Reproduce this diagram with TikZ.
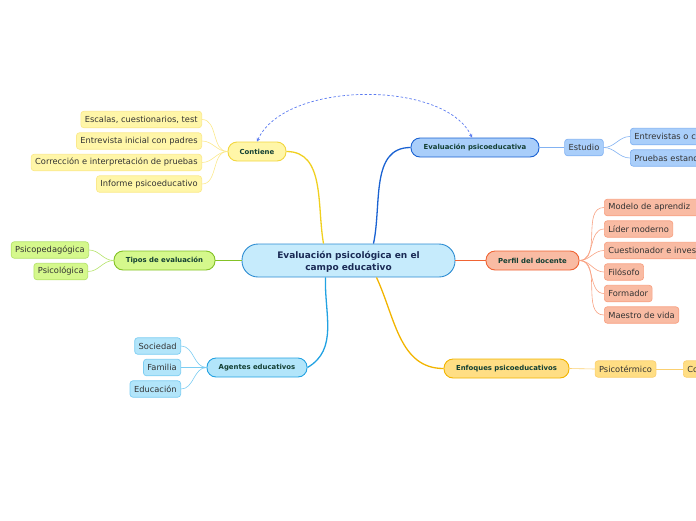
\documentclass[tikz,border=0pt]{standalone}
\usepackage{fontspec}
\setmainfont{DejaVu Sans}
\usetikzlibrary{arrows.meta,calc}
\definecolor{mainfill}{HTML}{C6EBFC}
\definecolor{mainline}{HTML}{2C8CD2}
\definecolor{maintext}{HTML}{1A2A55}
\definecolor{brtext}{HTML}{123F33}
\definecolor{leaftext}{HTML}{333333}
\definecolor{yfill}{HTML}{FFF6A8}
\definecolor{yline}{HTML}{F2D640}
\definecolor{yleafline}{HTML}{FBE98C}
\definecolor{ycon}{HTML}{F0D020}
\definecolor{bfill}{HTML}{A9CEFA}
\definecolor{bline}{HTML}{1A62D2}
\definecolor{bleafline}{HTML}{82B2F2}
\definecolor{ofill}{HTML}{F9BBA3}
\definecolor{oline}{HTML}{F06434}
\definecolor{oleafline}{HTML}{F8A283}
\definecolor{gfill}{HTML}{D5F88C}
\definecolor{gline}{HTML}{84C226}
\definecolor{gleafline}{HTML}{B5E36A}
\definecolor{cfill}{HTML}{B2E5FA}
\definecolor{cline}{HTML}{22A2E2}
\definecolor{cleafline}{HTML}{7CCDF2}
\definecolor{efill}{HTML}{FFDE84}
\definecolor{eline}{HTML}{F2B400}
\definecolor{eleafline}{HTML}{FBD070}
\definecolor{dashcol}{HTML}{5A7AF0}
\begin{document}
\begin{tikzpicture}[x=1pt,y=1pt,
  leaf/.style={draw, rounded corners=3pt, minimum height=16.5pt, inner xsep=4pt, inner ysep=0pt,
    font=\fontsize{8.3}{9}\selectfont, text=leaftext, line width=0.7pt},
  branch/.style={draw, rounded corners=9pt, minimum height=19pt, inner ysep=0pt,
    font=\fontsize{6.9}{8}\selectfont\bfseries, text=brtext, line width=0.9pt},
  sub/.style={line width=0.6pt},
  con/.style={line width=1.3pt}]
\useasboundingbox (0,0) rectangle (696,-520);
% central
\node[draw=mainline, fill=mainfill, line width=0.9pt, rounded corners=16pt, minimum width=213pt, minimum height=33pt] (main) at (348.5,-260.5) {};
\node[align=center, text=maintext, font=\fontsize{9}{11.5}\selectfont\bfseries, inner sep=0pt] (maintxt) at (348.5,-262)
  {Evaluación psicológica en el\\campo educativo};
% branches
\node[branch, draw=yline, fill=yfill, minimum width=58pt] (cont) at (257,-151.5) {Contiene};
\node[branch, draw=bline, fill=bfill, minimum width=128pt] (evp) at (475,-147.5) {Evaluación psicoeducativa};
\node[branch, draw=oline, fill=ofill, minimum width=93pt] (perf) at (532.5,-260.5) {Perfil del docente};
\node[branch, draw=gline, fill=gfill, minimum width=101pt] (tipos) at (164.5,-260.5) {Tipos de evaluación};
\node[branch, draw=cline, fill=cfill, minimum width=100pt] (agen) at (257,-367.5) {Agentes educativos};
\node[branch, draw=eline, fill=efill, minimum width=125pt] (enf) at (506.5,-368.5) {Enfoques psicoeducativos};
% main connectors
\draw[con, ycon] ($(main.north)+(-25,0)$) to[out=100,in=0] (cont.east);
\draw[con, bline] ($(main.north)+(25,0)$) to[out=78,in=180] (evp.west);
\draw[con, oline] (main.east) -- (perf.west);
\draw[con, gline] (main.west) -- (tipos.east);
\draw[con, cline] ($(main.south)+(-23,0)$) to[out=-92,in=30] (agen.east);
\draw[con, eline] ($(main.south)+(28,0)$) to[out=-65,in=180] (enf.west);
% Contiene leaves
\node[leaf, draw=yleafline, fill=yfill, anchor=east] (c1) at (202,-119.5) {Escalas, cuestionarios, test};
\node[leaf, draw=yleafline, fill=yfill, anchor=east] (c2) at (202,-141) {Entrevista inicial con padres};
\node[leaf, draw=yleafline, fill=yfill, anchor=east] (c3) at (202,-162.5) {Corrección e interpretación de pruebas};
\node[leaf, draw=yleafline, fill=yfill, anchor=east] (c4) at (202,-184) {Informe psicoeducativo};
\foreach \n in {c1,c2,c3,c4} \draw[sub, yleafline] (cont.west) to[out=180,in=0] (\n.east);
% Evaluacion psicoeducativa
\node[leaf, draw=bleafline, fill=bfill] (est) at (584,-147.5) {Estudio};
\draw[sub, bleafline] (evp.east) -- (est.west);
\node[leaf, draw=bleafline, fill=bfill, anchor=west, minimum width=90pt, align=left, text width=82pt] (e1) at (630,-136.5) {Entrevistas o c};
\node[leaf, draw=bleafline, fill=bfill, anchor=west, minimum width=90pt, align=left, text width=82pt] (e2) at (630,-158) {Pruebas estand};
\foreach \n in {e1,e2} \draw[sub, bleafline] (est.east) to[out=0,in=180] (\n.west);
% Perfil leaves
\node[leaf, draw=oleafline, fill=ofill, anchor=west, minimum width=110pt, align=left, text width=102pt] (p1) at (604,-207.5) {Modelo de aprendiz};
\node[leaf, draw=oleafline, fill=ofill, anchor=west] (p2) at (604,-229) {Líder moderno};
\node[leaf, draw=oleafline, fill=ofill, anchor=west, minimum width=110pt, align=left, text width=102pt] (p3) at (604,-250.5) {Cuestionador e inves};
\node[leaf, draw=oleafline, fill=ofill, anchor=west] (p4) at (604,-272) {Filósofo};
\node[leaf, draw=oleafline, fill=ofill, anchor=west] (p5) at (604,-293.5) {Formador};
\node[leaf, draw=oleafline, fill=ofill, anchor=west] (p6) at (604,-315) {Maestro de vida};
\foreach \n in {p1,p2,p3,p4,p5,p6} \draw[sub, oleafline] (perf.east) to[out=0,in=180] (\n.west);
% Tipos leaves
\node[leaf, draw=gleafline, fill=gfill, anchor=east] (t1) at (89,-250) {Psicopedagógica};
\node[leaf, draw=gleafline, fill=gfill, anchor=east] (t2) at (88,-271.5) {Psicológica};
\foreach \n in {t1,t2} \draw[sub, gleafline] (tipos.west) to[out=180,in=0] (\n.east);
% Agentes leaves
\node[leaf, draw=cleafline, fill=cfill, anchor=east] (a1) at (181,-346) {Sociedad};
\node[leaf, draw=cleafline, fill=cfill, anchor=east] (a2) at (181,-367.5) {Familia};
\node[leaf, draw=cleafline, fill=cfill, anchor=east] (a3) at (181,-389) {Educación};
\foreach \n in {a1,a2,a3} \draw[sub, cleafline] (agen.west) to[out=180,in=0] (\n.east);
% Enfoques
\node[leaf, draw=eleafline, fill=efill] (ps) at (625.5,-369) {Psicotérmico};
\node[leaf, draw=eleafline, fill=efill, anchor=west, minimum width=40pt, align=left, text width=32pt, inner xsep=3pt] (co) at (683,-369) {Co};
\draw[sub, eleafline] (enf.east) -- (ps.west);
\draw[sub, eleafline] (ps.east) -- (co.west);
% dashed relation
\draw[dashcol, line width=0.7pt, dash pattern=on 2.5pt off 2pt, {Stealth[length=3.5pt,width=3.5pt]}-{Stealth[length=3.5pt,width=3.5pt]}]
  (cont.north) .. controls (285,-80) and (445,-80) .. (evp.north -| 472,0);
\end{tikzpicture}
\end{document}
